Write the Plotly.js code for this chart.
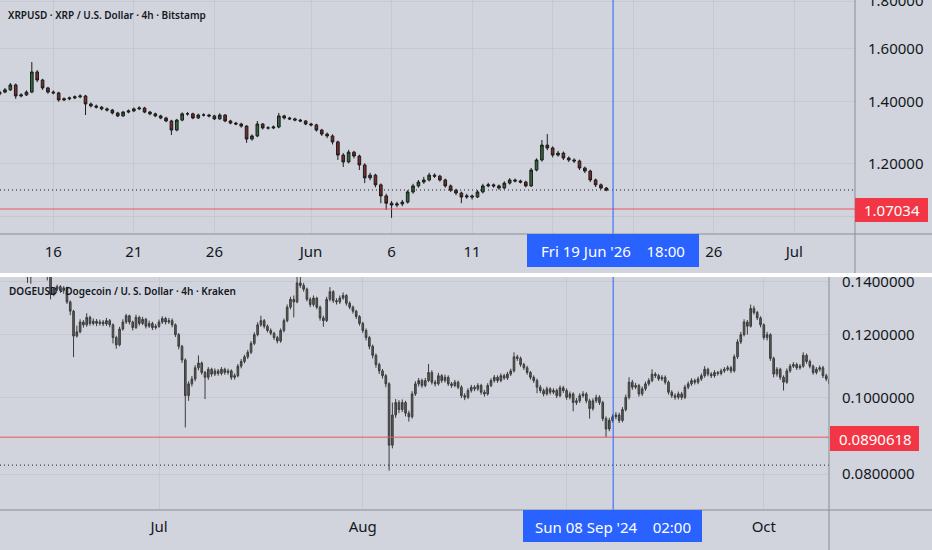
<!DOCTYPE html>
<html><head><meta charset="utf-8">
<script src="https://cdn.plot.ly/plotly-3.0.1.min.js"></script>
<style>html,body{margin:0;padding:0;background:#d1d4dc;}#chart{width:932px;height:550px;}</style>
</head><body><div id="chart"></div>
<script>
// ---------- XRPUSD 8h candles, from 2026-05-12 16:00 ----------
const xrpStart = '2026-05-12T16:00:00Z';
const xrpStepHours = 8;
const xrpOpen = [
1.427,1.434,1.442,1.460,1.420,1.424,1.434,1.508,1.478,1.449,
1.434,1.431,1.406,1.410,1.413,1.417,1.420,1.392,1.385,1.381,
1.375,1.371,1.361,1.351,1.364,1.368,1.375,1.378,1.364,1.358,
1.351,1.344,1.334,1.304,1.337,1.358,1.358,1.344,1.354,1.354,
1.351,1.341,1.354,1.334,1.327,1.324,1.317,1.275,1.285,1.324,
1.311,1.311,1.314,1.351,1.344,1.341,1.337,1.334,1.324,1.321,
1.304,1.291,1.285,1.266,1.225,1.204,1.234,1.222,1.195,1.157,
1.165,1.137,1.106,1.086,1.081,1.084,1.089,1.117,1.134,1.145,
1.151,1.165,1.162,1.151,1.134,1.122,1.114,1.103,1.106,1.103,
1.117,1.134,1.137,1.134,1.128,1.142,1.151,1.148,1.145,1.134,
1.180,1.210,1.256,1.247,1.225,1.231,1.216,1.210,1.207,1.186,
1.177,1.151,1.137,1.128];
const xrpHigh = [
1.440,1.449,1.467,1.465,1.430,1.440,1.546,1.515,1.482,1.453,
1.440,1.435,1.415,1.418,1.422,1.426,1.424,1.397,1.390,1.385,
1.380,1.375,1.365,1.368,1.373,1.380,1.384,1.382,1.368,1.362,
1.355,1.348,1.338,1.341,1.363,1.364,1.362,1.359,1.360,1.358,
1.355,1.360,1.357,1.338,1.331,1.328,1.320,1.290,1.334,1.327,
1.317,1.319,1.361,1.355,1.348,1.345,1.341,1.337,1.328,1.325,
1.308,1.296,1.290,1.270,1.231,1.241,1.238,1.226,1.200,1.172,
1.169,1.141,1.112,1.092,1.090,1.095,1.122,1.140,1.151,1.160,
1.172,1.170,1.166,1.155,1.138,1.126,1.118,1.112,1.110,1.122,
1.140,1.143,1.141,1.138,1.147,1.156,1.155,1.152,1.149,1.186,
1.215,1.272,1.291,1.252,1.238,1.236,1.221,1.215,1.211,1.190,
1.181,1.155,1.141,1.131];
const xrpLow = [
1.420,1.430,1.438,1.410,1.415,1.420,1.430,1.470,1.442,1.428,
1.426,1.400,1.402,1.405,1.409,1.412,1.354,1.380,1.376,1.370,
1.366,1.356,1.347,1.348,1.360,1.364,1.371,1.360,1.353,1.347,
1.340,1.330,1.288,1.300,1.333,1.352,1.340,1.341,1.349,1.346,
1.337,1.338,1.330,1.323,1.320,1.312,1.263,1.270,1.281,1.306,
1.306,1.307,1.310,1.339,1.337,1.333,1.330,1.320,1.316,1.299,
1.285,1.278,1.258,1.210,1.189,1.200,1.215,1.180,1.142,1.150,
1.130,1.086,1.068,1.047,1.075,1.078,1.085,1.112,1.129,1.140,
1.147,1.157,1.146,1.129,1.117,1.108,1.086,1.098,1.096,1.100,
1.113,1.130,1.129,1.123,1.125,1.138,1.144,1.141,1.130,1.131,
1.176,1.205,1.240,1.218,1.220,1.210,1.204,1.201,1.180,1.171,
1.145,1.131,1.124,1.119];
const xrpClose = [
1.434,1.442,1.460,1.420,1.424,1.434,1.508,1.478,1.449,1.434,
1.431,1.406,1.410,1.413,1.417,1.420,1.392,1.385,1.381,1.375,
1.371,1.361,1.351,1.364,1.368,1.375,1.378,1.364,1.358,1.351,
1.344,1.334,1.304,1.337,1.358,1.358,1.344,1.354,1.354,1.351,
1.341,1.354,1.334,1.327,1.324,1.317,1.275,1.285,1.324,1.311,
1.311,1.314,1.351,1.344,1.341,1.337,1.334,1.324,1.321,1.304,
1.291,1.285,1.266,1.225,1.204,1.234,1.222,1.195,1.157,1.165,
1.137,1.106,1.086,1.081,1.084,1.089,1.117,1.134,1.145,1.151,
1.165,1.162,1.151,1.134,1.122,1.114,1.103,1.106,1.103,1.117,
1.134,1.137,1.134,1.128,1.142,1.151,1.148,1.145,1.134,1.180,
1.210,1.256,1.247,1.225,1.231,1.216,1.210,1.207,1.186,1.177,
1.151,1.137,1.128,1.122];

// ---------- DOGEUSD 12h candles, from 2024-06-07 00:00 ----------
const dogeStart = '2024-06-07T00:00:00Z';
const dogeStepHours = 12;
const dogeOpen = [
.1440,.1445,.1460,.1470,.1455,.1475,.1480,.1465,.1450,.1420,
.1435,.1460,.1480,.1455,.1440,.1430,.1350,.1370,.1380,.1365,
.1375,.1320,.1285,.1195,.1210,.1245,.1235,.1262,.1240,.1248,
.1240,.1245,.1238,.1250,.1235,.1190,.1165,.1220,.1245,.1268,
.1245,.1225,.1262,.1240,.1255,.1230,.1240,.1225,.1230,.1245,
.1258,.1245,.1250,.1235,.1200,.1160,.1115,.1005,.1040,.1055,
.1090,.1105,.1075,.1060,.1085,.1070,.1080,.1072,.1085,.1075,
.1080,.1060,.1065,.1095,.1110,.1125,.1140,.1170,.1200,.1235,
.1250,.1230,.1215,.1205,.1190,.1178,.1215,.1250,.1300,.1330,
.1320,.1395,.1385,.1370,.1330,.1310,.1335,.1300,.1260,.1250,
.1330,.1360,.1325,.1320,.1335,.1345,.1315,.1300,.1285,.1265,
.1240,.1215,.1190,.1160,.1130,.1100,.1080,.1065,.1040,.0870,
.0950,.0985,.0965,.0985,.0955,.0945,.1010,.1040,.1050,.1035,
.1050,.1075,.1045,.1040,.1065,.1050,.1060,.1040,.1035,.1045,
.1030,.1005,.1000,.1020,.1030,.1025,.1035,.1015,.1010,.1035,
.1050,.1060,.1050,.1065,.1058,.1070,.1080,.1125,.1120,.1100,
.1090,.1075,.1060,.1050,.1030,.1020,.1010,.1025,.1015,.1020,
.1005,.1028,.1020,.1000,.1010,.0985,.0990,.1005,.1010,.0990,
.0968,.0990,.1000,.0985,.0940,.0912,.0935,.0945,.0950,.0935,
.0965,.1000,.1045,.1030,.1035,.1010,.1025,.1040,.1050,.1070,
.1065,.1055,.1060,.1045,.1015,.1005,.1000,.1010,.1000,.1030,
.1040,.1050,.1045,.1055,.1065,.1085,.1070,.1065,.1075,.1072,
.1080,.1085,.1090,.1080,.1125,.1175,.1200,.1245,.1230,.1295,
.1280,.1260,.1235,.1190,.1200,.1120,.1070,.1085,.1060,.1045,
.1080,.1095,.1100,.1090,.1095,.1130,.1110,.1095,.1075,.1085,
.1090,.1065,.1055];
const dogeHigh = [
.1458,.1472,.1482,.1478,.1486,.1492,.1488,.1472,.1458,.1445,
.1470,.1490,.1485,.1462,.1450,.1435,.1378,.1388,.1386,.1382,
.1380,.1326,.1290,.1232,.1255,.1252,.1277,.1268,.1258,.1256,
.1254,.1252,.1260,.1256,.1240,.1196,.1228,.1255,.1275,.1272,
.1250,.1272,.1268,.1264,.1260,.1250,.1246,.1238,.1254,.1266,
.1264,.1260,.1258,.1240,.1206,.1165,.1120,.1048,.1064,.1098,
.1130,.1110,.1080,.1092,.1090,.1088,.1086,.1092,.1090,.1087,
.1085,.1072,.1102,.1118,.1132,.1148,.1178,.1208,.1244,.1268,
.1256,.1236,.1222,.1210,.1196,.1222,.1258,.1310,.1340,.1345,
.1430,.1420,.1395,.1376,.1338,.1345,.1340,.1306,.1268,.1340,
.1378,.1366,.1334,.1345,.1357,.1350,.1322,.1306,.1290,.1270,
.1246,.1222,.1196,.1166,.1136,.1106,.1086,.1070,.1045,.0985,
.0995,.0992,.0994,.0990,.0962,.1018,.1048,.1058,.1056,.1058,
.1102,.1082,.1052,.1074,.1070,.1068,.1066,.1046,.1052,.1050,
.1036,.1012,.1027,.1037,.1036,.1042,.1040,.1022,.1042,.1057,
.1067,.1066,.1072,.1071,.1077,.1087,.1140,.1132,.1126,.1106,
.1096,.1080,.1066,.1056,.1037,.1026,.1032,.1030,.1027,.1026,
.1035,.1034,.1026,.1017,.1015,.0998,.1012,.1018,.1015,.0996,
.0997,.1008,.1006,.0990,.0946,.0942,.0952,.0958,.0956,.0972,
.1008,.1060,.1052,.1043,.1040,.1032,.1047,.1057,.1085,.1076,
.1071,.1067,.1066,.1050,.1021,.1012,.1017,.1016,.1037,.1047,
.1057,.1056,.1062,.1072,.1095,.1090,.1076,.1082,.1080,.1087,
.1092,.1097,.1096,.1133,.1184,.1210,.1255,.1252,.1310,.1305,
.1286,.1266,.1240,.1210,.1205,.1126,.1092,.1090,.1066,.1088,
.1102,.1108,.1106,.1102,.1140,.1136,.1116,.1100,.1092,.1097,
.1096,.1071,.1060];
const dogeLow = [
.1430,.1436,.1450,.1445,.1447,.1468,.1455,.1438,.1395,.1392,
.1428,.1452,.1445,.1425,.1405,.1330,.1342,.1362,.1355,.1352,
.1312,.1270,.1124,.1190,.1205,.1225,.1228,.1232,.1233,.1230,
.1232,.1230,.1231,.1226,.1170,.1152,.1160,.1214,.1238,.1236,
.1215,.1220,.1232,.1234,.1222,.1224,.1216,.1218,.1224,.1238,
.1236,.1238,.1226,.1192,.1150,.1105,.0916,.0990,.1032,.1048,
.1082,.1068,.0995,.1052,.1062,.1064,.1065,.1066,.1068,.1068,
.1052,.1053,.1060,.1088,.1104,.1118,.1134,.1164,.1194,.1228,
.1222,.1208,.1198,.1182,.1170,.1172,.1208,.1244,.1292,.1262,
.1315,.1375,.1360,.1322,.1300,.1302,.1292,.1250,.1228,.1245,
.1322,.1316,.1310,.1312,.1328,.1306,.1292,.1276,.1256,.1232,
.1206,.1180,.1150,.1120,.1090,.1070,.1056,.1030,.0808,.0862,
.0942,.0955,.0958,.0946,.0932,.0940,.1004,.1032,.1028,.1030,
.1045,.1038,.1032,.1035,.1043,.1044,.1034,.1028,.1030,.1024,
.0998,.0992,.0995,.1014,.1018,.1019,.1008,.1002,.1005,.1030,
.1044,.1043,.1045,.1052,.1052,.1064,.1075,.1112,.1093,.1083,
.1068,.1053,.1043,.1012,.1013,.1003,.1005,.1008,.1009,.0998,
.1000,.1013,.0993,.0994,.0960,.0978,.0984,.0999,.0983,.0940,
.0962,.0984,.0978,.0933,.08906,.0906,.0929,.0938,.0928,.0930,
.0960,.0994,.1022,.1024,.1002,.1004,.1019,.1034,.1045,.1058,
.1049,.1049,.1038,.1008,.0998,.0993,.0994,.0993,.0995,.1024,
.1034,.1038,.1039,.1049,.1059,.1063,.1058,.1059,.1065,.1066,
.1074,.1079,.1073,.1075,.1118,.1168,.1194,.1200,.1225,.1272,
.1252,.1226,.1182,.1180,.1112,.1060,.1062,.1052,.1020,.1040,
.1074,.1089,.1083,.1084,.1090,.1103,.1088,.1068,.1069,.1078,
.1058,.1048,.1033];
const dogeClose = [
.1445,.1460,.1470,.1455,.1475,.1480,.1465,.1450,.1420,.1435,
.1460,.1480,.1455,.1440,.1430,.1350,.1370,.1380,.1365,.1375,
.1320,.1285,.1195,.1210,.1245,.1235,.1262,.1240,.1248,.1240,
.1245,.1238,.1250,.1235,.1190,.1165,.1220,.1245,.1268,.1245,
.1225,.1262,.1240,.1255,.1230,.1240,.1225,.1230,.1245,.1258,
.1245,.1250,.1235,.1200,.1160,.1115,.1005,.1040,.1055,.1090,
.1105,.1075,.1060,.1085,.1070,.1080,.1072,.1085,.1075,.1080,
.1060,.1065,.1095,.1110,.1125,.1140,.1170,.1200,.1235,.1250,
.1230,.1215,.1205,.1190,.1178,.1215,.1250,.1300,.1330,.1320,
.1395,.1385,.1370,.1330,.1310,.1335,.1300,.1260,.1250,.1330,
.1360,.1325,.1320,.1335,.1345,.1315,.1300,.1285,.1265,.1240,
.1215,.1190,.1160,.1130,.1100,.1080,.1065,.1040,.0870,.0950,
.0985,.0965,.0985,.0955,.0945,.1010,.1040,.1050,.1035,.1050,
.1075,.1045,.1040,.1065,.1050,.1060,.1040,.1035,.1045,.1030,
.1005,.1000,.1020,.1030,.1025,.1035,.1015,.1010,.1035,.1050,
.1060,.1050,.1065,.1058,.1070,.1080,.1125,.1120,.1100,.1090,
.1075,.1060,.1050,.1030,.1020,.1010,.1025,.1015,.1020,.1005,
.1028,.1020,.1000,.1010,.0985,.0990,.1005,.1010,.0990,.0968,
.0990,.1000,.0985,.0940,.0912,.0935,.0945,.0950,.0935,.0965,
.1000,.1045,.1030,.1035,.1010,.1025,.1040,.1050,.1070,.1065,
.1055,.1060,.1045,.1015,.1005,.1000,.1010,.1000,.1030,.1040,
.1050,.1045,.1055,.1065,.1085,.1070,.1065,.1075,.1072,.1080,
.1085,.1090,.1080,.1125,.1175,.1200,.1245,.1230,.1295,.1280,
.1260,.1235,.1190,.1200,.1120,.1070,.1085,.1060,.1045,.1080,
.1095,.1100,.1090,.1095,.1130,.1110,.1095,.1075,.1085,.1090,
.1065,.1055,.1040];

// ---------- levels, ticks, labels ----------
const xrpLevel = 1.07034, xrpLast = 1.1225;
const dogeLevel = 0.0890618, dogeDotted = 0.0821;
const xrpCross = '2026-06-19 18:00', dogeCross = '2024-09-08 02:00';
const xrpDateTicks = ['2026-05-16','2026-05-21','2026-05-26','2026-06-01','2026-06-06','2026-06-11','2026-06-16','2026-06-21','2026-06-26','2026-07-01'];
const xrpDateText = ['16','21','26','Jun','6','11','','','26','Jul'];
const dogeDateTicks = ['2024-07-01','2024-08-01','2024-09-01','2024-10-01'];
const dogeDateText = ['Jul','Aug','','Oct'];
const xrpPriceTicks = [1.05,1.2,1.4,1.6,1.8];
const xrpPriceText = ['','1.20000','1.40000','1.60000','1.80000'];
const dogePriceTicks = [0.08,0.10,0.12,0.14];
const dogePriceText = ['0.0800000','0.1000000','0.1200000','0.1400000'];
const xrpTitle = 'XRPUSD · XRP / U.S. Dollar · 4h · Bitstamp';
const dogeTitle = 'DOGEUSD · Dogecoin / U. S. Dollar · 4h · Kraken';
const xrpCrossText = "Fri 19 Jun '26\u00a0\u00a0\u00a0 18:00";
const dogeCrossText = "Sun 08 Sep '24\u00a0\u00a0\u00a0 02:00";

function times(startIso, stepH, n){
  const t0 = Date.parse(startIso), out = [];
  for (let i = 0; i < n; i++) out.push(new Date(t0 + i*stepH*3600e3).toISOString().slice(0,19).replace('T',' '));
  return out;
}

const W = 932, H = 550;
const px = x => x / W, py = y => 1 - y / H;
const BG = '#d1d4dc', GRID = '#c6c9d1', AXIS = '#8a8d97', TXT = '#131722';
const RED = '#f23645', BLUE = '#2962ff';
const FONT = 'Noto Sans, Open Sans, sans-serif';

const traces = [
  {type:'candlestick', xaxis:'x', yaxis:'y', x: times(xrpStart, xrpStepHours, xrpClose.length),
   open:xrpOpen, high:xrpHigh, low:xrpLow, close:xrpClose,
   increasing:{line:{color:'#1c1c1c',width:1}, fillcolor:'#2f6a3a'},
   decreasing:{line:{color:'#1c1c1c',width:1}, fillcolor:'#7a2c2c'},
   whiskerwidth:0, hoverinfo:'skip'},
  {type:'candlestick', xaxis:'x2', yaxis:'y2', x: times(dogeStart, dogeStepHours, dogeClose.length),
   open:dogeOpen, high:dogeHigh, low:dogeLow, close:dogeClose,
   increasing:{line:{color:'#3c3c3c',width:1}, fillcolor:'#5e5e5e'},
   decreasing:{line:{color:'#3c3c3c',width:1}, fillcolor:'#5e5e5e'},
   whiskerwidth:0, hoverinfo:'skip'}
];

const axisCommon = {showgrid:true, gridcolor:GRID, gridwidth:1, zeroline:false, showline:false,
  ticks:'', automargin:false, fixedrange:true, tickmode:'array', ticklabeloverflow:'allow',
  tickfont:{family:FONT,size:15,color:TXT}};

const layout = {
  width:W, height:H, margin:{l:0,r:0,t:0,b:0}, paper_bgcolor:BG, plot_bgcolor:BG,
  showlegend:false, hovermode:false, dragmode:false, font:{family:FONT,size:15,color:TXT},
  xaxis: Object.assign({}, axisCommon, {domain:[0,px(855)], anchor:'y', type:'date',
    range:['2026-05-12 16:35','2026-07-04 18:29'], rangeslider:{visible:false},
    tickvals:xrpDateTicks, ticktext:xrpDateText, ticklabelstandoff:7}),
  yaxis: Object.assign({}, axisCommon, {domain:[py(234),1], anchor:'x', type:'log', side:'right',
    range:[0.002375,0.256585], tickvals:xrpPriceTicks, ticktext:xrpPriceText, ticklabelstandoff:12}),
  xaxis2: Object.assign({}, axisCommon, {domain:[0,px(829)], anchor:'y2', type:'date',
    range:['2024-06-06 19:30','2024-10-10 22:00'], rangeslider:{visible:false},
    tickvals:dogeDateTicks, ticktext:dogeDateText, ticklabelstandoff:6}),
  yaxis2: Object.assign({}, axisCommon, {domain:[py(510),py(277)], anchor:'x2', type:'log', side:'right',
    range:[-1.142348,-0.847933], tickvals:dogePriceTicks, ticktext:dogePriceText, ticklabelstandoff:12}),
  shapes: [
    // price levels
    {type:'line', xref:'x domain', yref:'y', x0:0, x1:1, y0:xrpLevel, y1:xrpLevel, line:{color:'#ef5560',width:1}},
    {type:'line', xref:'x domain', yref:'y', x0:0, x1:1, y0:xrpLast, y1:xrpLast, line:{color:'#1c1c1c',width:1,dash:'1px,3px'}},
    {type:'line', xref:'x2 domain', yref:'y2', x0:0, x1:1, y0:dogeLevel, y1:dogeLevel, line:{color:'#ef5560',width:1}},
    {type:'line', xref:'x2 domain', yref:'y2', x0:0, x1:1, y0:dogeDotted, y1:dogeDotted, line:{color:'#1c1c1c',width:1,dash:'1px,3px'}},
    // crosshair
    {type:'line', xref:'x', yref:'paper', x0:xrpCross, x1:xrpCross, y0:py(234), y1:1, line:{color:BLUE,width:1}, layer:'above'},
    {type:'line', xref:'x2', yref:'paper', x0:dogeCross, x1:dogeCross, y0:py(510), y1:py(277), line:{color:BLUE,width:1}, layer:'above'},
    // pane frame lines
    {type:'line', xref:'paper', yref:'paper', x0:0, x1:1, y0:py(234), y1:py(234), line:{color:AXIS,width:1}, layer:'above'},
    {type:'line', xref:'paper', yref:'paper', x0:px(855), x1:px(855), y0:py(273), y1:1, line:{color:AXIS,width:1}, layer:'above'},
    {type:'line', xref:'paper', yref:'paper', x0:0, x1:1, y0:py(510), y1:py(510), line:{color:AXIS,width:1}, layer:'above'},
    {type:'line', xref:'paper', yref:'paper', x0:px(829), x1:px(829), y0:0, y1:py(277), line:{color:AXIS,width:1}, layer:'above'},
    // separator
    {type:'rect', xref:'paper', yref:'paper', x0:0, x1:1, y0:py(277), y1:py(273), fillcolor:'#ffffff', line:{width:0}, layer:'above'},
    // label boxes
    {type:'rect', xref:'paper', yref:'paper', x0:px(855), x1:px(928), y0:py(222), y1:py(198), fillcolor:RED, line:{width:0}, layer:'above'},
    {type:'rect', xref:'paper', yref:'paper', x0:px(830), x1:px(919), y0:py(451), y1:py(426), fillcolor:RED, line:{width:0}, layer:'above'},
    {type:'rect', xref:'paper', yref:'paper', x0:px(527), x1:px(699), y0:py(267), y1:py(234), fillcolor:BLUE, line:{width:0}, layer:'above'},
    {type:'rect', xref:'paper', yref:'paper', x0:px(523), x1:px(702), y0:py(542), y1:py(510), fillcolor:BLUE, line:{width:0}, layer:'above'}
  ],
  annotations: [
    {xref:'paper', yref:'paper', x:px(6), y:py(15), xanchor:'left', yanchor:'middle', showarrow:false,
     text:xrpTitle, font:{family:FONT, size:10, color:TXT, weight:600}},
    {xref:'paper', yref:'paper', x:px(7), y:py(291), xanchor:'left', yanchor:'middle', showarrow:false,
     text:dogeTitle, font:{family:FONT, size:10, color:TXT, weight:600}},
    {xref:'paper', yref:'paper', x:px(892), y:py(210), xanchor:'center', yanchor:'middle', showarrow:false,
     text:'1.07034', font:{family:FONT, size:15, color:'#ffffff'}},
    {xref:'paper', yref:'paper', x:px(875), y:py(438.5), xanchor:'center', yanchor:'middle', showarrow:false,
     text:'0.0890618', font:{family:FONT, size:15, color:'#ffffff'}},
    {xref:'paper', yref:'paper', x:px(613), y:py(251), xanchor:'center', yanchor:'middle', showarrow:false,
     text:xrpCrossText, font:{family:FONT, size:15, color:'#ffffff'}},
    {xref:'paper', yref:'paper', x:px(612.5), y:py(526.5), xanchor:'center', yanchor:'middle', showarrow:false,
     text:dogeCrossText, font:{family:FONT, size:15, color:'#ffffff'}}
  ]
};

Plotly.newPlot('chart', traces, layout, {staticPlot:true, displayModeBar:false});
</script>
</body></html>
